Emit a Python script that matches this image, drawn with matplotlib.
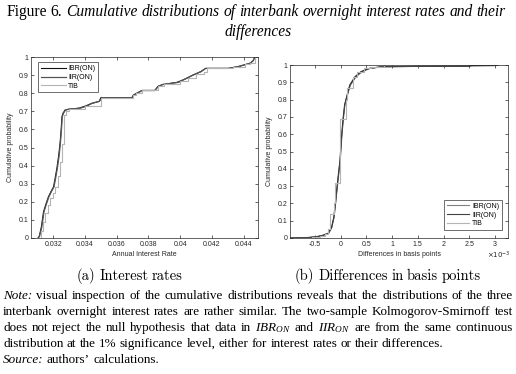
import matplotlib
matplotlib.use("Agg")
import matplotlib.pyplot as plt

plt.rcParams["font.family"] = ["Liberation Sans", "DejaVu Sans"]
plt.rcParams["mathtext.it"] = "Liberation Serif:italic"
plt.rcParams["mathtext.rm"] = "Liberation Serif"
plt.rcParams["mathtext.bf"] = "Liberation Serif:bold"

# ---- data ----
# (a) interest rates: empirical CDFs
ibr_rate = [0.03104, 0.03112, 0.03125, 0.03139, 0.03155, 0.0317, 0.03185, 0.03202, 0.03212,
            0.03223, 0.03235, 0.03244, 0.0325, 0.03255, 0.03262, 0.03275, 0.0330, 0.0336,
            0.0340, 0.03443, 0.0349, 0.0350, 0.03695, 0.03705, 0.03726, 0.0376, 0.0384,
            0.0386, 0.0389, 0.0398, 0.0403, 0.0408, 0.0413, 0.0416, 0.0430, 0.0437, 0.0441,
            0.0444, 0.0446, 0.0447]
ibr_rate_cdf = [0.0, 0.01, 0.06, 0.145, 0.19, 0.228, 0.255, 0.283, 0.33, 0.385, 0.46, 0.532,
                0.60, 0.67, 0.69, 0.707, 0.712, 0.717, 0.728, 0.744, 0.755, 0.775, 0.775,
                0.79, 0.80, 0.815, 0.815, 0.838, 0.848, 0.86, 0.878, 0.90, 0.919, 0.937,
                0.937, 0.948, 0.958, 0.965, 0.98, 1.0]
iir_rate = [0.03106, 0.03114, 0.03128, 0.03142, 0.03158, 0.03173, 0.03188, 0.03205, 0.03215,
            0.03226, 0.03238, 0.03246, 0.03252, 0.03257, 0.03265, 0.03278, 0.0330, 0.0337,
            0.0341, 0.03445, 0.0349, 0.0351, 0.03698, 0.03708, 0.0373, 0.0376, 0.0384,
            0.03863, 0.0389, 0.0399, 0.0403, 0.0408, 0.0413, 0.0416, 0.0431, 0.0437,
            0.0441, 0.0444, 0.0446, 0.0447]
iir_rate_cdf = ibr_rate_cdf
tib_rate = [0.03112, 0.03122, 0.03135, 0.0315, 0.03165, 0.0318, 0.0320, 0.03212, 0.03228,
            0.0324, 0.03255, 0.03265, 0.03282, 0.0330, 0.0340, 0.0350, 0.0370, 0.0372,
            0.0376, 0.0386, 0.0390, 0.0400, 0.0405, 0.0410, 0.0415, 0.0417, 0.0433,
            0.0441, 0.0444, 0.0447]
tib_rate_cdf = [0.0, 0.04, 0.09, 0.14, 0.18, 0.22, 0.25, 0.28, 0.34, 0.42, 0.52, 0.68, 0.70,
                0.71, 0.73, 0.775, 0.79, 0.80, 0.815, 0.84, 0.85, 0.865, 0.885, 0.905, 0.915,
                0.94, 0.945, 0.96, 0.965, 1.0]

# (b) differences
ibr_diff = [-0.00098, -0.0006, -0.00045, -0.00035, -0.00024, -0.000175, -0.00013, -0.0001,
            -0.00006, -0.00001, 0.00002, 0.00005, 0.00008, 0.00012, 0.00018, 0.00028,
            0.0004, 0.00055, 0.0008, 0.0015, 0.0025, 0.00255, 0.003, 0.00305]
ibr_diff_cdf = [0.0, 0.003, 0.008, 0.015, 0.027, 0.06, 0.12, 0.2, 0.316, 0.45, 0.585, 0.69,
                0.77, 0.817, 0.884, 0.932, 0.962, 0.98, 0.99, 0.992, 0.993, 0.996, 0.997, 1.0]
iir_diff = [-0.00098, -0.00062, -0.00046, -0.00034, -0.00023, -0.00017, -0.000125, -0.000095,
            -0.000055, -0.000005, 0.000025, 0.000055, 0.000085, 0.000125, 0.00019, 0.0003,
            0.00042, 0.00057, 0.0008, 0.0015, 0.00248, 0.00252, 0.003, 0.00306]
iir_diff_cdf = ibr_diff_cdf
tib_diff = [-0.00098, -0.00055, -0.0004, -0.0003, -0.00024, -0.000195, -0.000125, -0.0001,
            -0.00001, 0.0001, 0.00013, 0.00025, 0.00032, 0.00045, 0.0006, 0.00085]
tib_diff_cdf = [0.0, 0.005, 0.012, 0.025, 0.05, 0.14, 0.20, 0.32, 0.69, 0.80, 0.865, 0.93,
                0.96, 0.98, 0.99, 1.0]

labels = ["IBR(ON)", "IIR(ON)", "TIB"]
prob_ticks = [0, 0.1, 0.2, 0.3, 0.4, 0.5, 0.6, 0.7, 0.8, 0.9, 1]
prob_labels = ["0", "0.1", "0.2", "0.3", "0.4", "0.5", "0.6", "0.7", "0.8", "0.9", "1"]
rate_ticks = [0.032, 0.034, 0.036, 0.038, 0.04, 0.042, 0.044]
rate_labels = ["0.032", "0.034", "0.036", "0.038", "0.04", "0.042", "0.044"]
diff_ticks = [-0.0005, 0, 0.0005, 0.001, 0.0015, 0.002, 0.0025, 0.003]
diff_labels = ["-0.5", "0", "0.5", "1", "1.5", "2", "2.5", "3"]

W, H = 516, 374
fig = plt.figure(figsize=(W / 100, H / 100), dpi=100)
renderer = fig.canvas.get_renderer()
axcol = "#262626"


def style_axes(ax):
    ax.tick_params(direction="in", length=2.5, width=0.5, top=True, right=True,
                   labelsize=5, colors=axcol, pad=2)
    for s in ax.spines.values():
        s.set_linewidth(0.5)
        s.set_color(axcol)
    ax.set_ylim(0, 1)
    ax.set_yticks(prob_ticks, prob_labels)
    ax.set_ylabel("Cumulative probability", fontsize=5, color=axcol, labelpad=3)


ax1 = fig.add_axes([31 / W, 1 - 238 / H, 227 / W, 181 / H])
ax1.plot(ibr_rate, ibr_rate_cdf, color="#111111", lw=0.8, label=labels[0])
ax1.plot(iir_rate, iir_rate_cdf, color="#555555", lw=0.9, label=labels[1])
ax1.step(tib_rate, tib_rate_cdf, where="post", color="#b4b4b4", lw=0.8, label=labels[2])
ax1.set_xlim(0.0306, 0.0449)
ax1.set_xticks(rate_ticks, rate_labels)
ax1.set_xlabel("Annual Interest Rate", fontsize=5, color=axcol, labelpad=2)
style_axes(ax1)
leg = ax1.legend(loc="upper left", bbox_to_anchor=(0.03, 0.97), fontsize=5, frameon=True,
                 fancybox=False, edgecolor="black", handlelength=3.6, labelspacing=0.25,
                 borderpad=0.4, handletextpad=0.4, borderaxespad=0)
leg.get_frame().set_linewidth(0.5)

ax2 = fig.add_axes([290 / W, 1 - 238 / H, 218 / W, 173 / H])
ax2.plot(ibr_diff, ibr_diff_cdf, color="#1a1a1a", lw=0.8, label=labels[0])
ax2.plot(iir_diff, iir_diff_cdf, color="#444444", lw=0.8, label=labels[1])
ax2.step(tib_diff, tib_diff_cdf, where="post", color="#b4b4b4", lw=0.8, label=labels[2])
ax2.set_xlim(-0.00098, 0.00325)
ax2.set_xticks(diff_ticks, diff_labels)
ax2.set_xlabel("Differences in basis points", fontsize=5, color=axcol, labelpad=2)
style_axes(ax2)
leg2 = ax2.legend(loc="lower right", bbox_to_anchor=(0.972, 0.046), fontsize=5, frameon=True,
                  fancybox=False, edgecolor="black", handlelength=3.2, labelspacing=0.25,
                  borderpad=0.4, handletextpad=0.4, borderaxespad=0)
leg2.get_frame().set_linewidth(0.5)
leg2.legend_handles[0].set_color("#808080")
fig.text(499 / W, 1 - 255 / H, r"$\times10^{-3}$", fontsize=5, color=axcol,
         ha="center", va="center", math_fontfamily="dejavusans")


# ---- text blocks ----
def make_words(words, fs, family):
    out = []
    for w, st in words:
        if w.startswith("$"):
            t = fig.text(0, 0, w, fontsize=fs, math_fontfamily="custom", va="baseline")
        else:
            t = fig.text(0, 0, w, fontsize=fs, family=family, style=st, va="baseline")
        out.append(t)
    return out


def natural_width(words, fs, family):
    ts = make_words(words, fs, family)
    wsum = sum(t.get_window_extent(renderer).width for t in ts)
    for t in ts:
        t.remove()
    return wsum + 0.25 * fs * 100 / 72 * (len(words) - 1)


def place(words, y, x0, x1=None, fs=10, mode="left", family="Liberation Serif"):
    ts = make_words(words, fs, family)
    widths = [t.get_window_extent(renderer).width for t in ts]
    space = 0.25 * fs * 100 / 72
    total = sum(widths) + space * (len(ts) - 1)
    if mode == "justify":
        space = (x1 - x0 - sum(widths)) / (len(ts) - 1)
    elif mode == "center":
        x0 = x0 - total / 2
    x = x0
    for t, w in zip(ts, widths):
        t.set_position((x / W, 1 - y / H))
        x += w + space


def split(s, st="normal"):
    return [(w, st) for w in s.split()]


title1 = split("Figure 6.") + split(
    "Cumulative distributions of interbank overnight interest rates and their", "italic")
fs_t = 12 * 503 / natural_width(title1, 12, "Liberation Serif")
place(title1, 16, 256, fs=fs_t, mode="center")
place(split("differences", "italic"), 36, 258, fs=fs_t, mode="center")

cap_a = split("(a) Interest rates")
fs_c = 10 * 106 / natural_width(cap_a, 10, "cmr10")
place(cap_a, 280, 130, fs=fs_c, mode="center", family="cmr10")
place(split("(b) Differences in basis points"), 280, 388, fs=fs_c, mode="center",
      family="cmr10")

ibr_word = r"$\mathit{IBR}_{\mathit{ON}}$"
iir_word = r"$\mathit{IIR}_{\mathit{ON}}$"
note1 = [("Note:", "italic")] + split(
    "visual inspection of the cumulative distributions reveals that the distributions of the three")
note2 = split("interbank overnight interest rates are rather similar. The two-sample "
              "Kolmogorov-Smirnoff test")
note3 = split("does not reject the null hypothesis that data in") + [(ibr_word, "normal")] + \
    split("and") + [(iir_word, "normal")] + split("are from the same continuous")
note4 = split("distribution at the 1% significance level, either for interest rates or their "
              "differences.")
note5 = [("Source:", "italic")] + split("authors\u2019 calculations.")
fs_n = 10 * 441 / natural_width(note4, 10, "Liberation Serif")
place(note1, 299, 3, 513, fs=fs_n, mode="justify")
place(note2, 315, 3, 513, fs=fs_n, mode="justify")
place(note3, 331, 3, 513, fs=fs_n, mode="justify")
place(note4, 347, 3, fs=fs_n)
place(note5, 363, 3, fs=fs_n)

fig.savefig("out.png", dpi=100)
